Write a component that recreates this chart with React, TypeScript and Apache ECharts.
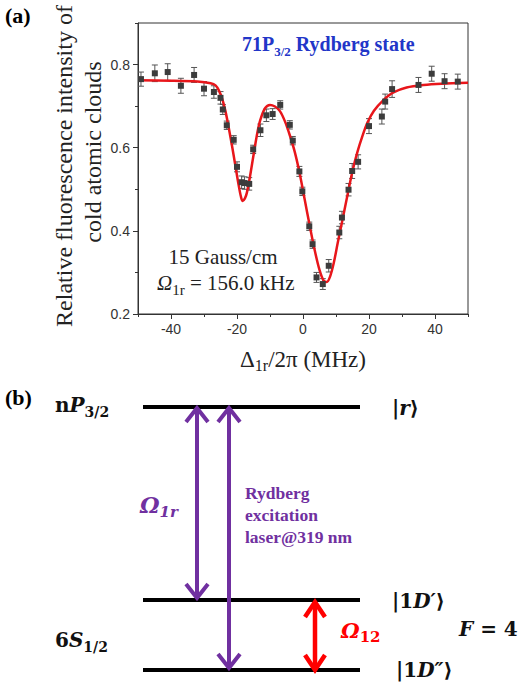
import React, { useEffect, useRef } from "react";
import * as echarts from "echarts";

// ---- data ----
const detuning = [-49.1, -44.9, -41.0, -37.0, -33.0, -30.0, -27.0, -25.0, -24.3, -23.1, -21.0, -20.0, -18.6, -17.7, -16.3, -15.1, -12.9, -11.1, -9.2, -6.9, -4.0, -3.1, -1.1, -0.2, 1.9, 2.9, 4.1, 6.0, 7.8, 11.0, 11.8, 13.8, 14.9, 16.7, 20.0, 23.9, 24.9, 27.0, 35.0, 39.0, 42.9, 46.9];
const intensity = [0.765, 0.779, 0.782, 0.749, 0.775, 0.742, 0.734, 0.72, 0.692, 0.654, 0.619, 0.554, 0.517, 0.515, 0.513, 0.596, 0.642, 0.678, 0.681, 0.703, 0.655, 0.617, 0.543, 0.495, 0.411, 0.368, 0.288, 0.272, 0.316, 0.396, 0.432, 0.499, 0.544, 0.566, 0.652, 0.675, 0.711, 0.741, 0.751, 0.778, 0.76, 0.759];
const errors = [0.017, 0.02, 0.02, 0.018, 0.018, 0.017, 0.015, 0.015, 0.012, 0.01, 0.01, 0.012, 0.015, 0.015, 0.015, 0.01, 0.015, 0.015, 0.013, 0.01, 0.01, 0.01, 0.012, 0.01, 0.01, 0.01, 0.012, 0.013, 0.015, 0.015, 0.015, 0.015, 0.018, 0.017, 0.018, 0.018, 0.018, 0.02, 0.018, 0.018, 0.018, 0.018];
const fitX = [-50, -40, -32, -28, -26.5, -25.5, -24.5, -23.5, -22.5, -21.5, -20.5, -19.5, -18.8, -18.3, -17.6, -17.0, -16.1, -15.1, -14.0, -13.0, -11.5, -10.0, -8.5, -7.0, -5.5, -4.0, -2.5, -1.0, 0.5, 2.0, 3.5, 5.0, 6.2, 7.2, 8.2, 9.3, 10.5, 12.0, 13.5, 15.0, 16.5, 18.0, 19.5, 21.5, 24.3, 27.4, 31.4, 36.5, 42.0, 50.0];
const fitY = [0.762, 0.761, 0.759, 0.755, 0.75, 0.738, 0.718, 0.688, 0.648, 0.604, 0.557, 0.51, 0.482, 0.472, 0.478, 0.492, 0.529, 0.577, 0.629, 0.665, 0.695, 0.703, 0.699, 0.688, 0.664, 0.63, 0.59, 0.538, 0.476, 0.414, 0.355, 0.306, 0.281, 0.277, 0.29, 0.322, 0.37, 0.428, 0.487, 0.544, 0.59, 0.628, 0.66, 0.689, 0.714, 0.733, 0.745, 0.751, 0.754, 0.756];
const xMajorTicks = [-40, -20, 0, 20, 40];
const yMajorTicks = [0.2, 0.4, 0.6, 0.8];

const SERIF = "'Liberation Serif', 'Times New Roman', serif";
const SANS = "'Liberation Sans', Arial, sans-serif";
const MATH = "'DejaVu Serif', serif";
const PURPLE = "#7030a0";
const AXIS = "#333";

function arrow(x: number, y1: number, y2: number, color: string, w: number, hw: number, hh: number) {
  const st = { stroke: color, lineWidth: w, lineJoin: "miter", lineCap: "butt", fill: "none" };
  return [
    { type: "line", shape: { x1: x, y1: y1 + 1, x2: x, y2: y2 - 1 }, style: st },
    { type: "polyline", shape: { points: [[x - hw, y1 + hh], [x, y1 + 1], [x + hw, y1 + hh]] }, style: st },
    { type: "polyline", shape: { points: [[x - hw, y2 - hh], [x, y2 - 1], [x + hw, y2 - hh]] }, style: st },
  ];
}

function level(y: number) {
  return { type: "line", shape: { x1: 143, y1: y, x2: 360, y2: y }, style: { stroke: "#000", lineWidth: 4 } };
}

function mathText(x: number, y: number, text: string, color: string, size: number, subSize = 14) {
  return {
    type: "text",
    x,
    y,
    style: {
      text,
      align: "left",
      verticalAlign: "middle",
      rich: {
        m: { fontSize: size, lineHeight: 28, fontFamily: MATH, fontWeight: "bold", fill: color },
        i: { fontSize: size, lineHeight: 28, fontFamily: MATH, fontWeight: "bold", fontStyle: "italic", fill: color },
        s: { fontSize: subSize, lineHeight: 17, verticalAlign: "bottom", fontFamily: MATH, fontWeight: "bold", fill: color },
        si: { fontSize: subSize, lineHeight: 17, verticalAlign: "bottom", fontFamily: MATH, fontWeight: "bold", fontStyle: "italic", fill: color },
      },
    },
  };
}

export default function App() {
  const ref = useRef<HTMLDivElement>(null);
  useEffect(() => {
    document.body.style.margin = "0";
    const chart = echarts.init(ref.current!, null, { renderer: "svg" });
    const points = detuning.map((x, i) => [x, intensity[i]]);
    const bars = detuning.map((x, i) => [x, intensity[i], errors[i]]);
    const fit = fitX.map((x, i) => [x, fitY[i]]);

    const subMain = (size: number, extra: any = {}) => ({ fontSize: size, lineHeight: 28, fontFamily: SERIF, ...extra });
    const subSmall = (size: number, extra: any = {}) => ({ fontSize: size, lineHeight: 17, verticalAlign: "bottom", fontFamily: SERIF, ...extra });

    const graphics: any[] = [
      // panel (a)
      { type: "text", x: 5, y: 15, style: { text: "(a)", fontSize: 22, fontWeight: "bold", fontFamily: SERIF, fill: "#000", verticalAlign: "middle" } },
      {
        type: "text",
        x: 64,
        y: 166,
        rotation: Math.PI / 2,
        style: { text: "Relative fluorescence intensity of", fontSize: 24, fontFamily: SERIF, fill: "#222", align: "center", verticalAlign: "middle" },
      },
      {
        type: "text",
        x: 93,
        y: 152,
        rotation: Math.PI / 2,
        style: { text: "cold atomic clouds", fontSize: 24, fontFamily: SERIF, fill: "#222", align: "center", verticalAlign: "middle" },
      },
      {
        type: "text",
        x: 303,
        y: 359,
        style: {
          text: "{m|Δ}{s|1r}{m|/2π (MHz)}",
          align: "center",
          verticalAlign: "middle",
          rich: { m: subMain(23, { fill: "#222" }), s: subSmall(16, { fill: "#222" }) },
        },
      },
      {
        type: "text",
        x: 242,
        y: 44,
        style: {
          text: "{m|71P}{s|3/2}{m| Rydberg state}",
          align: "left",
          verticalAlign: "middle",
          rich: {
            m: subMain(20, { fill: "#2236c8", fontWeight: "bold" }),
            s: subSmall(13, { fill: "#2236c8", fontWeight: "bold" }),
          },
        },
      },
      {
        type: "text",
        x: 223,
        y: 257,
        style: { text: "{m|15 Gauss/cm}", align: "center", verticalAlign: "middle", rich: { m: subMain(21, { fill: "#222" }) } },
      },
      {
        type: "text",
        x: 157,
        y: 283,
        style: {
          text: "{i|Ω}{s|1r}{m| = 156.0 kHz}",
          align: "left",
          verticalAlign: "middle",
          rich: {
            i: subMain(21, { fill: "#222", fontStyle: "italic" }),
            m: subMain(21, { fill: "#222" }),
            s: subSmall(15, { fill: "#222" }),
          },
        },
      },
      // panel (b)
      { type: "text", x: 5, y: 397, style: { text: "(b)", fontSize: 22, fontWeight: "bold", fontFamily: SERIF, fill: "#000", verticalAlign: "middle" } },
      level(407),
      level(600),
      level(670),
      ...arrow(197, 407, 599, PURPLE, 4, 11, 15),
      ...arrow(229, 407, 669, PURPLE, 4, 11, 15),
      ...arrow(315, 601, 671, "#ff0000", 4.5, 10, 16),
      mathText(55, 405, "{m|n}{i|P}{s|3/2}", "#111", 20),
      mathText(55, 640, "{m|6}{i|S}{s|1/2}", "#111", 20),
      mathText(140, 505, "{i|Ω}{si|1r}", PURPLE, 22, 15),
      {
        type: "text",
        x: 245,
        y: 515,
        style: {
          text: "Rydberg\nexcitation\nlaser@319 nm",
          align: "left",
          verticalAlign: "middle",
          fontSize: 17.5,
          lineHeight: 22,
          fontWeight: "bold",
          fontFamily: SERIF,
          fill: PURPLE,
        },
      },
      mathText(341, 630, "{i|Ω}{s|12}", "#ff0000", 21, 15),
      mathText(392, 408, "{m|\u007c}{i|r}{m|\u27e9}", "#111", 20),
      mathText(392, 601, "{m|\u007c1}{i|D\u2032}{m|\u27e9}", "#111", 20),
      mathText(396, 670, "{m|\u007c1}{i|D\u2033}{m|\u27e9}", "#111", 20),
      mathText(459, 629, "{i|F}{m| = 4}", "#111", 20),
    ];

    const tickStyle = { color: AXIS, width: 1 };
    chart.setOption({
      animation: false,
      backgroundColor: "#fff",
      grid: { left: 138, top: 23, right: 52, bottom: 368, show: true, borderColor: AXIS, borderWidth: 1, backgroundColor: "transparent" },
      xAxis: [
        {
          type: "value",
          min: -50,
          max: 50,
          interval: 10,
          position: "bottom",
          axisLine: { show: true, onZero: false, lineStyle: { color: AXIS, width: 1 } },
          axisTick: { show: true, length: 3, lineStyle: tickStyle },
          axisLabel: {
            margin: 8,
            fontSize: 14,
            fontFamily: SANS,
            color: AXIS,
            formatter: (v: number) => (Math.round(v) % 20 === 0 ? String(v) : ""),
          },
          splitLine: { show: false },
        },
        {
          type: "value",
          min: -50,
          max: 50,
          position: "bottom",
          axisLine: { show: false, onZero: false },
          axisTick: { show: true, length: 5, lineStyle: tickStyle, customValues: xMajorTicks },
          axisLabel: { show: false },
          splitLine: { show: false },
        },
      ],
      yAxis: [
        {
          type: "value",
          min: 0.2,
          max: 0.9,
          interval: 0.1,
          position: "left",
          axisLine: { show: true, onZero: false, lineStyle: { color: AXIS, width: 1 } },
          axisTick: { show: true, length: 3, lineStyle: tickStyle },
          axisLabel: {
            margin: 8,
            fontSize: 14,
            fontFamily: SANS,
            color: AXIS,
            formatter: (v: number) => {
              const k = Math.round(v * 10);
              return k % 2 === 0 && k < 9 ? v.toFixed(1) : "";
            },
          },
          splitLine: { show: false },
        },
        {
          type: "value",
          min: 0.2,
          max: 0.9,
          position: "left",
          axisLine: { show: false, onZero: false },
          axisTick: { show: true, length: 5, lineStyle: tickStyle, customValues: yMajorTicks },
          axisLabel: { show: false },
          splitLine: { show: false },
        },
      ],
      series: [
        {
          type: "custom",
          xAxisIndex: 0,
          yAxisIndex: 0,
          z: 2,
          data: bars,
          renderItem: (params: any, api: any) => {
            const x = api.value(0);
            const y = api.value(1);
            const e = api.value(2);
            const top = api.coord([x, y + e]);
            const bot = api.coord([x, y - e]);
            const c = 3;
            const st = { stroke: "#555", lineWidth: 1 };
            return {
              type: "group",
              children: [
                { type: "line", shape: { x1: top[0], y1: top[1], x2: bot[0], y2: bot[1] }, style: st },
                { type: "line", shape: { x1: top[0] - c, y1: top[1], x2: top[0] + c, y2: top[1] }, style: st },
                { type: "line", shape: { x1: bot[0] - c, y1: bot[1], x2: bot[0] + c, y2: bot[1] }, style: st },
              ],
            };
          },
        },
        {
          type: "line",
          xAxisIndex: 0,
          yAxisIndex: 0,
          z: 3,
          data: fit,
          smooth: 0.3,
          showSymbol: false,
          symbol: "none",
          lineStyle: { color: "#e8161b", width: 2.5 },
        },
        {
          type: "scatter",
          xAxisIndex: 0,
          yAxisIndex: 0,
          z: 4,
          data: points,
          symbol: "rect",
          symbolSize: 6,
          itemStyle: { color: "#3c3c3c", opacity: 1 },
        },
      ],
      graphic: graphics,
    });
    return () => chart.dispose();
  }, []);
  return <div ref={ref} style={{ width: 520, height: 682 }} />;
}
